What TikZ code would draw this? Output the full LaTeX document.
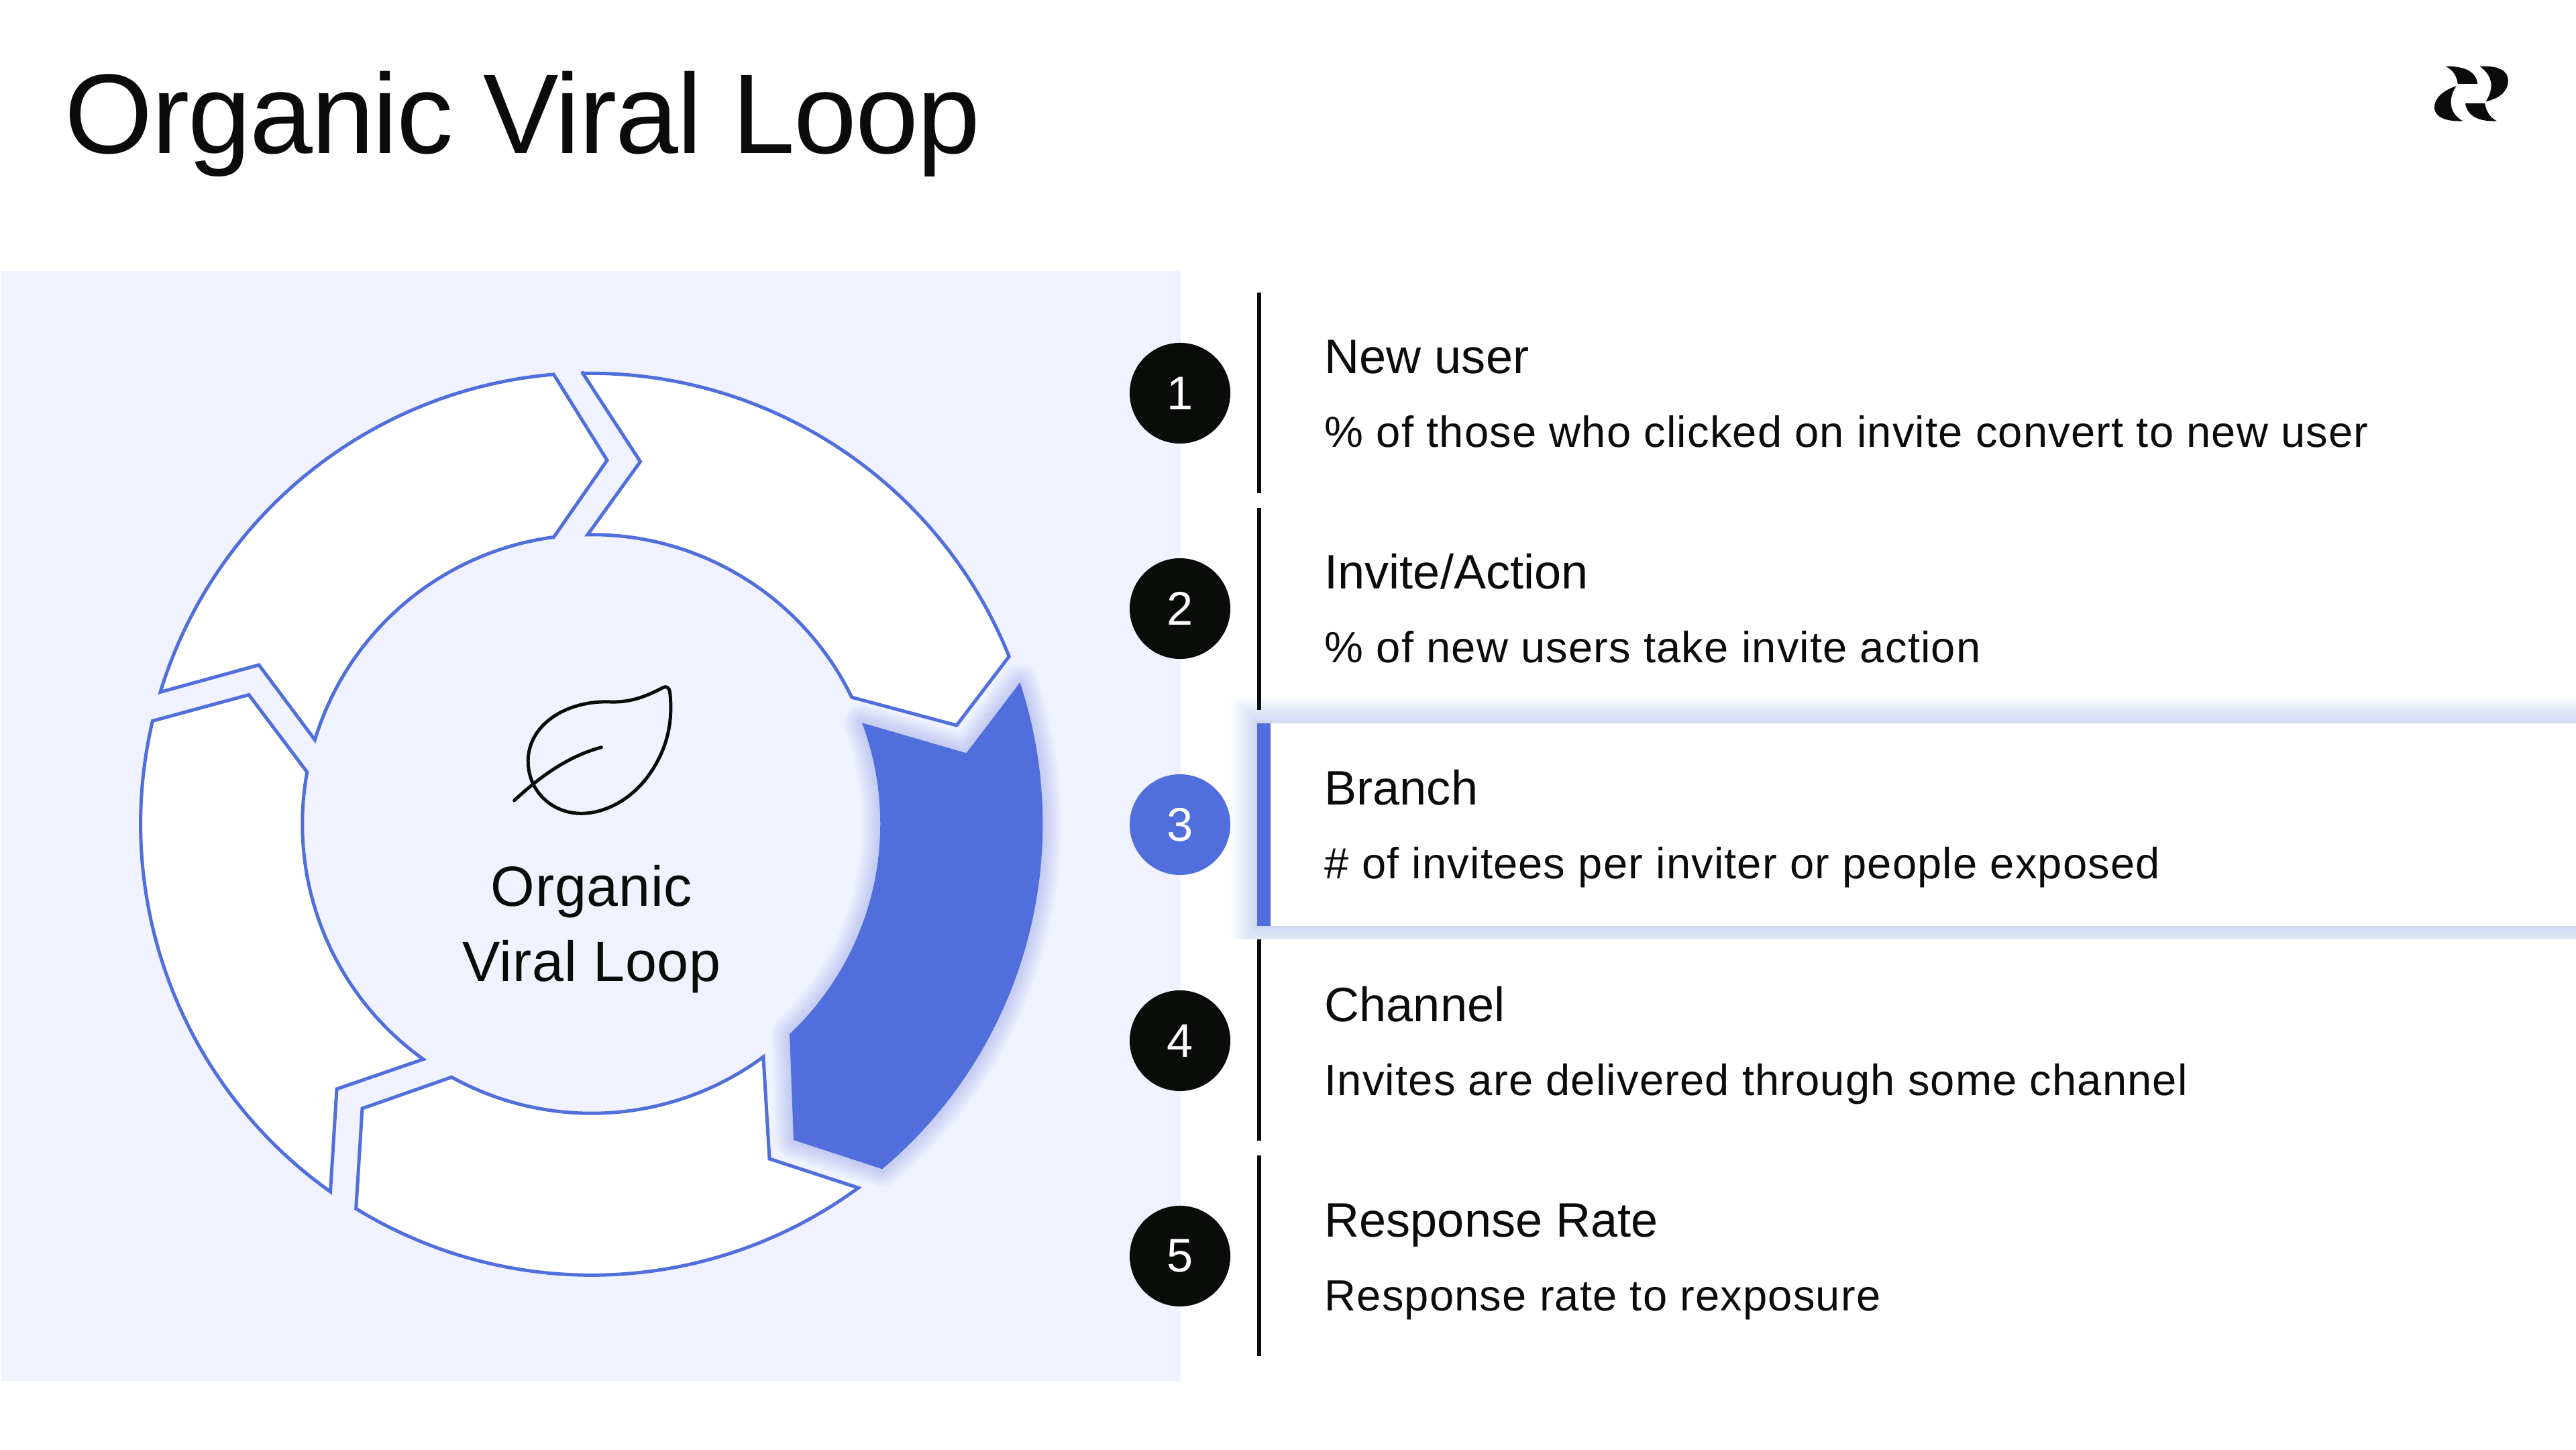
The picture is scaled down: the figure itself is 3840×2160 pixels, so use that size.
\documentclass[tikz,border=0pt]{standalone}
\usepackage{fontspec}
\setmainfont{Liberation Sans}
\newfontfamily\titlefont[LetterSpace=-1.2]{Liberation Sans}
\newfontfamily\rowfont[LetterSpace=1.8]{Liberation Sans}
\newfontfamily\loopfont[LetterSpace=1]{Liberation Sans}
\usepackage{xcolor}
\definecolor{ringblue}{HTML}{506EDC}
\definecolor{panelblue}{HTML}{F0F2FF}
\definecolor{inkblack}{HTML}{0A0C0A}
\tikzset{
    ringseg/.style={draw=ringblue, line width=0.05cm, fill=white, line join=miter, miter limit=3},
    rowline/.style={draw=inkblack, line width=0.06cm},
    numdot/.style={circle, fill=inkblack, text=white, minimum size=1.5cm, inner sep=0pt, font=\fontsize{20}{24}\selectfont},
    rowtitle/.style={anchor=base west, inner sep=0pt, text=inkblack, font=\fontsize{20.5}{24}\selectfont},
    rowtext/.style={anchor=base west, inner sep=0pt, text=inkblack, font=\rowfont\fontsize{18.5}{22}\selectfont},
    looptext/.style={anchor=base, inner sep=0pt, text=inkblack, font=\loopfont\fontsize{24}{28}\selectfont},
    glowlayer/.style={draw=ringblue, draw opacity=0.018, line join=round},
    leafline/.style={draw=inkblack, line width=0.05cm, line cap=round, line join=round}
}
\begin{document}
\begin{tikzpicture}[x=0.01cm, y=0.01cm]
            \useasboundingbox (0,0) rectangle (3840,2160);
            \fill[white] (0,0) rectangle (3840,2160);
            \fill[panelblue] (2,102) rectangle (1760,1756);

            % title and logo
            \node[anchor=base west, inner sep=0pt, text=inkblack, font=\titlefont\fontsize{48}{56}\selectfont] (title) at (96,1931) {Organic Viral Loop};
            \begin{scope}[shift={(3560,2100)}, x=0.00333cm, y=-0.00333cm]
                \fill[inkblack] (258,117) .. controls (350,115) and (395,145) .. (400,195) -- (312,195) .. controls (305,155) and (290,135) .. (258,117) -- cycle;
                \fill[inkblack] (410,117) .. controls (500,112) and (537,140) .. (537,180) .. controls (537,235) and (490,262) .. (437,275) .. controls (475,215) and (470,160) .. (410,117) -- cycle;
                \fill[inkblack] (305,205) .. controls (245,225) and (207,260) .. (207,300) .. controls (207,345) and (260,365) .. (335,362) .. controls (275,330) and (265,265) .. (305,205) -- cycle;
                \fill[inkblack] (345,283) -- (433,283) .. controls (440,320) and (455,345) .. (487,362) .. controls (405,365) and (355,340) .. (345,283) -- cycle;
            \end{scope}

            % ring
            \begin{scope}[shift={(882,932)}]
                \def\branchseg{(18.27:6.72cm) -- (558.5,105.6) -- (20.5:4.3cm) arc[start angle=20.5, end angle=-46.7, radius=4.3cm] -- (301,-471) -- (-49.9:6.72cm) arc[start angle=-49.9, end angle=18.27, radius=6.72cm] -- cycle}
                \draw[ringseg] (94.83:6.72cm) -- (23,542) -- (97.53:4.31cm) arc[start angle=97.53, end angle=163.1, radius=4.31cm] -- (-496,237) -- (163:6.72cm) arc[start angle=163, end angle=94.83, radius=6.72cm] -- cycle;
                \draw[ringseg] (91.16:6.72cm) -- (72.5,540) -- (90.8:4.31cm) arc[start angle=90.8, end angle=25.97, radius=4.31cm] -- (544,147) -- (21.86:6.7cm) arc[start angle=21.86, end angle=91.16, radius=6.72cm] -- cycle;
                \draw[ringseg] (-53.76:6.72cm) arc[start angle=-53.76, end angle=-121.5, radius=6.72cm] -- (-342,-424) -- (-118.95:4.31cm) arc[start angle=-118.95, end angle=-53.6, radius=4.31cm] -- (265,-499) -- cycle;
                \draw[ringseg] (166.8:6.72cm) arc[start angle=166.8, end angle=234.6, radius=6.72cm] -- (-380,-395) -- (234.4:4.31cm) arc[start angle=234.4, end angle=169.67, radius=4.31cm] -- (-511,192.5) -- cycle;
                \foreach \w in {4,8,...,56} {
                    \draw[glowlayer, line width=\w*0.01cm] \branchseg;
                }
                \fill[ringblue] \branchseg;
            \end{scope}

            % leaf
            \begin{scope}[shift={(720,1180)}, x=0.00333cm, y=-0.00333cm]
                \draw[leafline] (805,135) .. controls (820,125) and (835,135) .. (837,155) .. controls (850,270) and (835,400) .. (740,530) .. controls (660,640) and (540,700) .. (435,698) .. controls (300,695) and (200,590) .. (202,460) .. controls (205,300) and (370,195) .. (560,198) .. controls (650,203) and (720,180) .. (805,135) -- cycle;
                \draw[leafline] (140,640) .. controls (270,520) and (390,440) .. (530,402);
            \end{scope}
            \node[looptext] (loop1) at (882,809) {Organic};
            \node[looptext] (loop2) at (882,698) {Viral Loop};

            % highlighted row
            \begin{scope}
                \clip (1700,760) rectangle (3840,1140);
                \foreach \r in {3,6,...,39} {
                    \fill[ringblue, opacity=0.02] (1874-\r,780-\r) rectangle (3900,1082+\r);
                }
            \end{scope}
            \fill[white] (1874,780) rectangle (3840,1082);
            \fill[ringblue] (1874,780) rectangle (1894,1082);

            % rows
            \draw[rowline] (1877,1724) -- (1877,1425);
            \draw[rowline] (1877,1403) -- (1877,1102);
            \draw[rowline] (1877,760) -- (1877,460);
            \draw[rowline] (1877,438) -- (1877,139);

            \node[numdot] (n1) at (1759,1574) {1};
            \node[numdot] (n2) at (1759,1253) {2};
            \node[numdot, fill=ringblue] (n3) at (1759,931) {3};
            \node[numdot] (n4) at (1759,609) {4};
            \node[numdot] (n5) at (1759,288) {5};

            \node[rowtitle] (t1) at (1974,1603) {New user};
            \node[rowtext] (s1) at (1974,1493) {\% of those who clicked on invite convert to new user};
            \node[rowtitle] (t2) at (1974,1282) {Invite/Action};
            \node[rowtext] (s2) at (1974,1172) {\% of new users take invite action};
            \node[rowtitle] (t3) at (1974,960) {Branch};
            \node[rowtext] (s3) at (1974,850) {\# of invitees per inviter or people exposed};
            \node[rowtitle] (t4) at (1974,638) {Channel};
            \node[rowtext] (s4) at (1974,528) {Invites are delivered through some channel};
            \node[rowtitle] (t5) at (1974,317) {Response Rate};
            \node[rowtext] (s5) at (1974,207) {Response rate to rexposure};
        \end{tikzpicture}
\end{document}
